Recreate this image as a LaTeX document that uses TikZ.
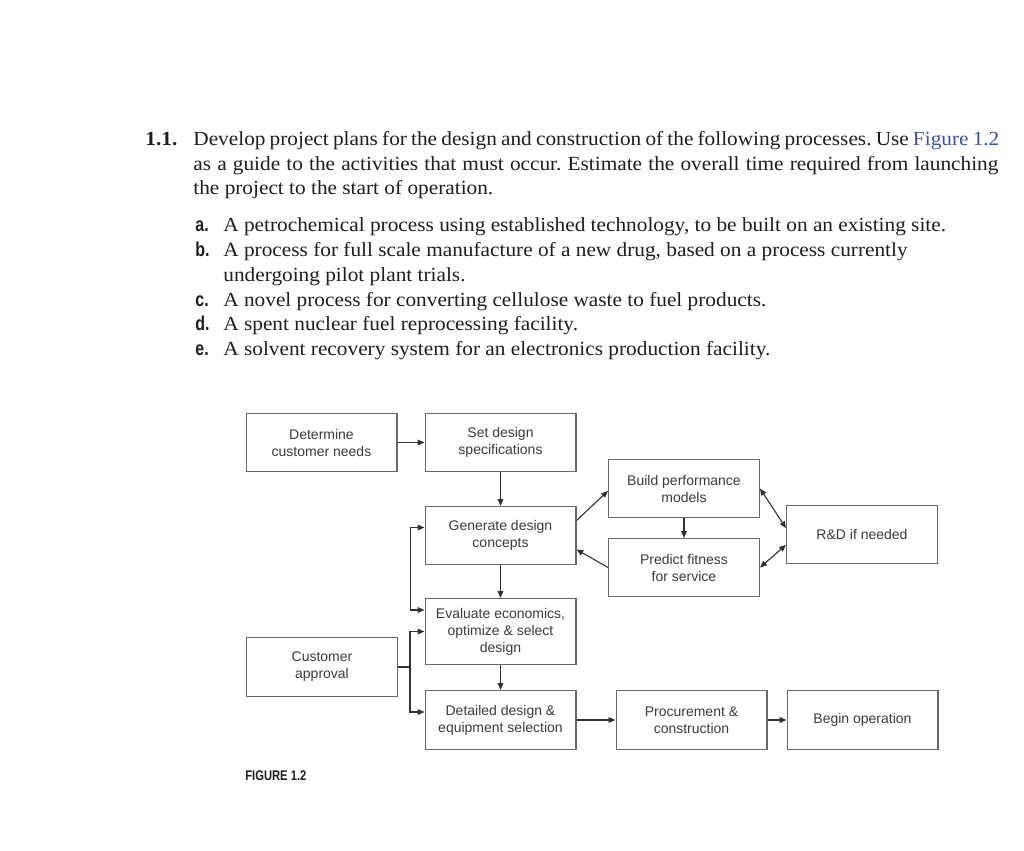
\documentclass[tikz,border=0pt]{standalone}
\usepackage{fontspec}
\setmainfont[FakeStretch=1.065]{Liberation Serif}
\setsansfont{Liberation Sans}
\newfontfamily\condfont[FakeStretch=0.8]{Liberation Sans}
\usepackage{xcolor}
\definecolor{ink}{RGB}{30,30,30}
\definecolor{linkblue}{RGB}{64,80,160}
\definecolor{boxline}{RGB}{105,105,105}
\definecolor{boxtext}{RGB}{60,60,60}
\definecolor{wireg}{RGB}{50,50,50}
\usetikzlibrary{arrows.meta,positioning}
\frenchspacing

\begin{document}
\begin{tikzpicture}[x=0.5pt,y=-0.5pt,
  qline/.style={anchor=base west,inner sep=0pt,text=ink,font=\fontsize{10}{12}\selectfont},
  qnum/.style={anchor=base west,inner sep=0pt,text=ink,font=\fontsize{10}{12}\selectfont\bfseries},
  qitem/.style={anchor=base west,inner sep=0pt,text=ink,font=\fontsize{10}{12}\condfont\bfseries},
  box/.style={draw=boxline,line width=0.7pt,fill=white,minimum width=75.3pt,minimum height=28.8pt,
    inner sep=1pt,align=center,text=boxtext,font=\fontsize{7}{8.5}\sffamily},
  arr/.style={-{Triangle[length=3.4pt,width=2.8pt]},wireg,line width=0.55pt},
  dbl/.style={{Triangle[length=3.4pt,width=2.8pt]}-{Triangle[length=3.4pt,width=2.8pt]},wireg,line width=0.55pt}]
  \useasboundingbox (0,0) rectangle (1024,851);
  \node[qnum] (qnum) at (145,145) {1.1.};
  \node[qline](l1) at (193,145){\makebox[403pt][s]{Develop project plans for the design and construction of the following processes. Use \textcolor{linkblue}{Figure 1.2}}};
  \node[qline](l2) at (193,170){\makebox[402.5pt][s]{as a guide to the activities that must occur. Estimate the overall time required from launching}};
  \node[qline](l3) at (193,194){the project to the start of operation.};
  \node[qitem](ia) at (195,231){a.};
  \node[qline](ta) at (223,231){A petrochemical process using established technology, to be built on an existing site.};
  \node[qitem](ib) at (195,256){b.};
  \node[qline](tb) at (223,256){A process for full scale manufacture of a new drug, based on a process currently};
  \node[qline](tb2) at (223,281){undergoing pilot plant trials.};
  \node[qitem](ic) at (195,306){c.};
  \node[qline](tc) at (223,306){A novel process for converting cellulose waste to fuel products.};
  \node[qitem](id) at (195,330){d.};
  \node[qline](td) at (223,330){A spent nuclear fuel reprocessing facility.};
  \node[qitem](ie) at (195,355){e.};
  \node[qline](te) at (223,355){A solvent recovery system for an electronics production facility.};

  \node[box](need) at (321.5,442.5){Determine\\customer needs};
  \node[box,right=13.5pt of need](spec){Set design\\specifications};
  \node[box,below=17pt of spec](gen){Generate design\\concepts};
  \node[box,below=16.5pt of gen,minimum height=32.8pt](eval){Evaluate economics,\\optimize \& select\\design};
  \node[box,below=12.5pt of eval,minimum height=29.3pt](detail){Detailed design \&\\equipment selection};
  \node[box,right=19.5pt of detail,minimum height=29.3pt](proc){Procurement \&\\construction};
  \node[box,right=9.5pt of proc,minimum height=29.3pt](begin){Begin operation};
  \node[box](build) at (684,488.5){Build performance\\models};
  \node[box,below=10pt of build](fit){Predict fitness\\for service};
  \node[box](rnd) at (862,534.5){R\&D if needed};
  \node[box,minimum height=29.3pt](appr) at (322,667){Customer\\approval};
  \node[anchor=base west,inner sep=0pt,text=ink,font=\fontsize{7}{8}\condfont\bfseries](fig) at (245,780){FIGURE 1.2};

  \draw[arr](need)--(spec); \draw[arr](spec)--(gen);
  \draw[arr]([yshift=7.5pt]gen.east)--([yshift=-1.2pt]build.west);
  \draw[arr](fit.west)--([yshift=-7pt]gen.east);
  \draw[arr](build)--(fit);
  \draw[dbl](build.east)--([yshift=3.2pt]rnd.west);
  \draw[dbl](fit.east)--([yshift=-5.2pt]rnd.west);
  \draw[arr](gen)--(eval); \draw[arr](eval)--(detail);
  \draw[arr](detail)--(proc); \draw[arr](proc)--(begin);
  \draw[dbl]([yshift=4pt]gen.west)--++(-7pt,0)|-([yshift=10.75pt]eval.west);
  \draw[arr](appr.east)--++(6pt,0)|-(eval.west);
  \draw[arr](appr.east)--++(6pt,0)|-([yshift=4pt]detail.west);
\end{tikzpicture}
\end{document}
